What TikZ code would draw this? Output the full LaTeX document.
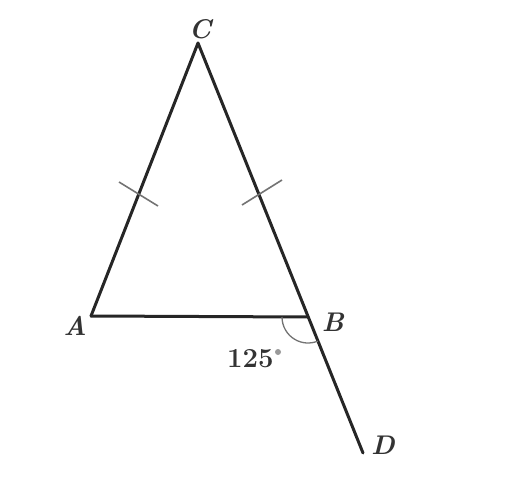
\documentclass[tikz,border=0pt]{standalone}
\usepackage{fontspec}
\begin{document}
\begin{tikzpicture}[x=1pt,y=-1pt,
  mainline/.style={line width=3pt,line cap=round,line join=miter,black!85},
  tickmark/.style={line width=1.6pt,black!55},
  anglearc/.style={line width=1.3pt,black!55},
  ptlabel/.style={font=\fontsize{27}{29}\selectfont\bfseries\itshape,text=black!80,inner sep=0pt},
  numlabel/.style={font=\fontsize{27.5}{29}\selectfont\bfseries,text=black!80,inner sep=0pt}]
\useasboundingbox (0,0) rectangle (524,492);
\coordinate (A) at (91,316);
\coordinate (B) at (308,317);
\coordinate (C) at (198,43);
\coordinate (D) at (363,453);
\draw[mainline] (A) -- (B);
\draw[mainline] (A) -- (C);
\draw[mainline] (C) -- (D);
% tick marks
\coordinate (t1a) at (119,182);
\coordinate (t1b) at (158,206);
\coordinate (t2a) at (242,205);
\coordinate (t2b) at (282,180);
\draw[tickmark] (t1a) -- (t1b);
\draw[tickmark] (t2a) -- (t2b);
% angle arc
\coordinate (arcstart) at ([shift={(-26,0)}]B);
\draw[anglearc] (arcstart) arc[start angle=180,end angle=68,radius=26];
\node[ptlabel] (lA) at (75,326) {A};
\node[ptlabel] (lB) at (333,322) {B};
\node[ptlabel] (lC) at (200,29) {C};
\node[ptlabel] (lD) at (383,445) {D};
\node[numlabel,anchor=base west] (l125) at (227,367) {125};
\node[circle,fill=black!40,inner sep=0pt,minimum size=6pt] (deg) at (278,352) {};
\end{tikzpicture}
\end{document}
